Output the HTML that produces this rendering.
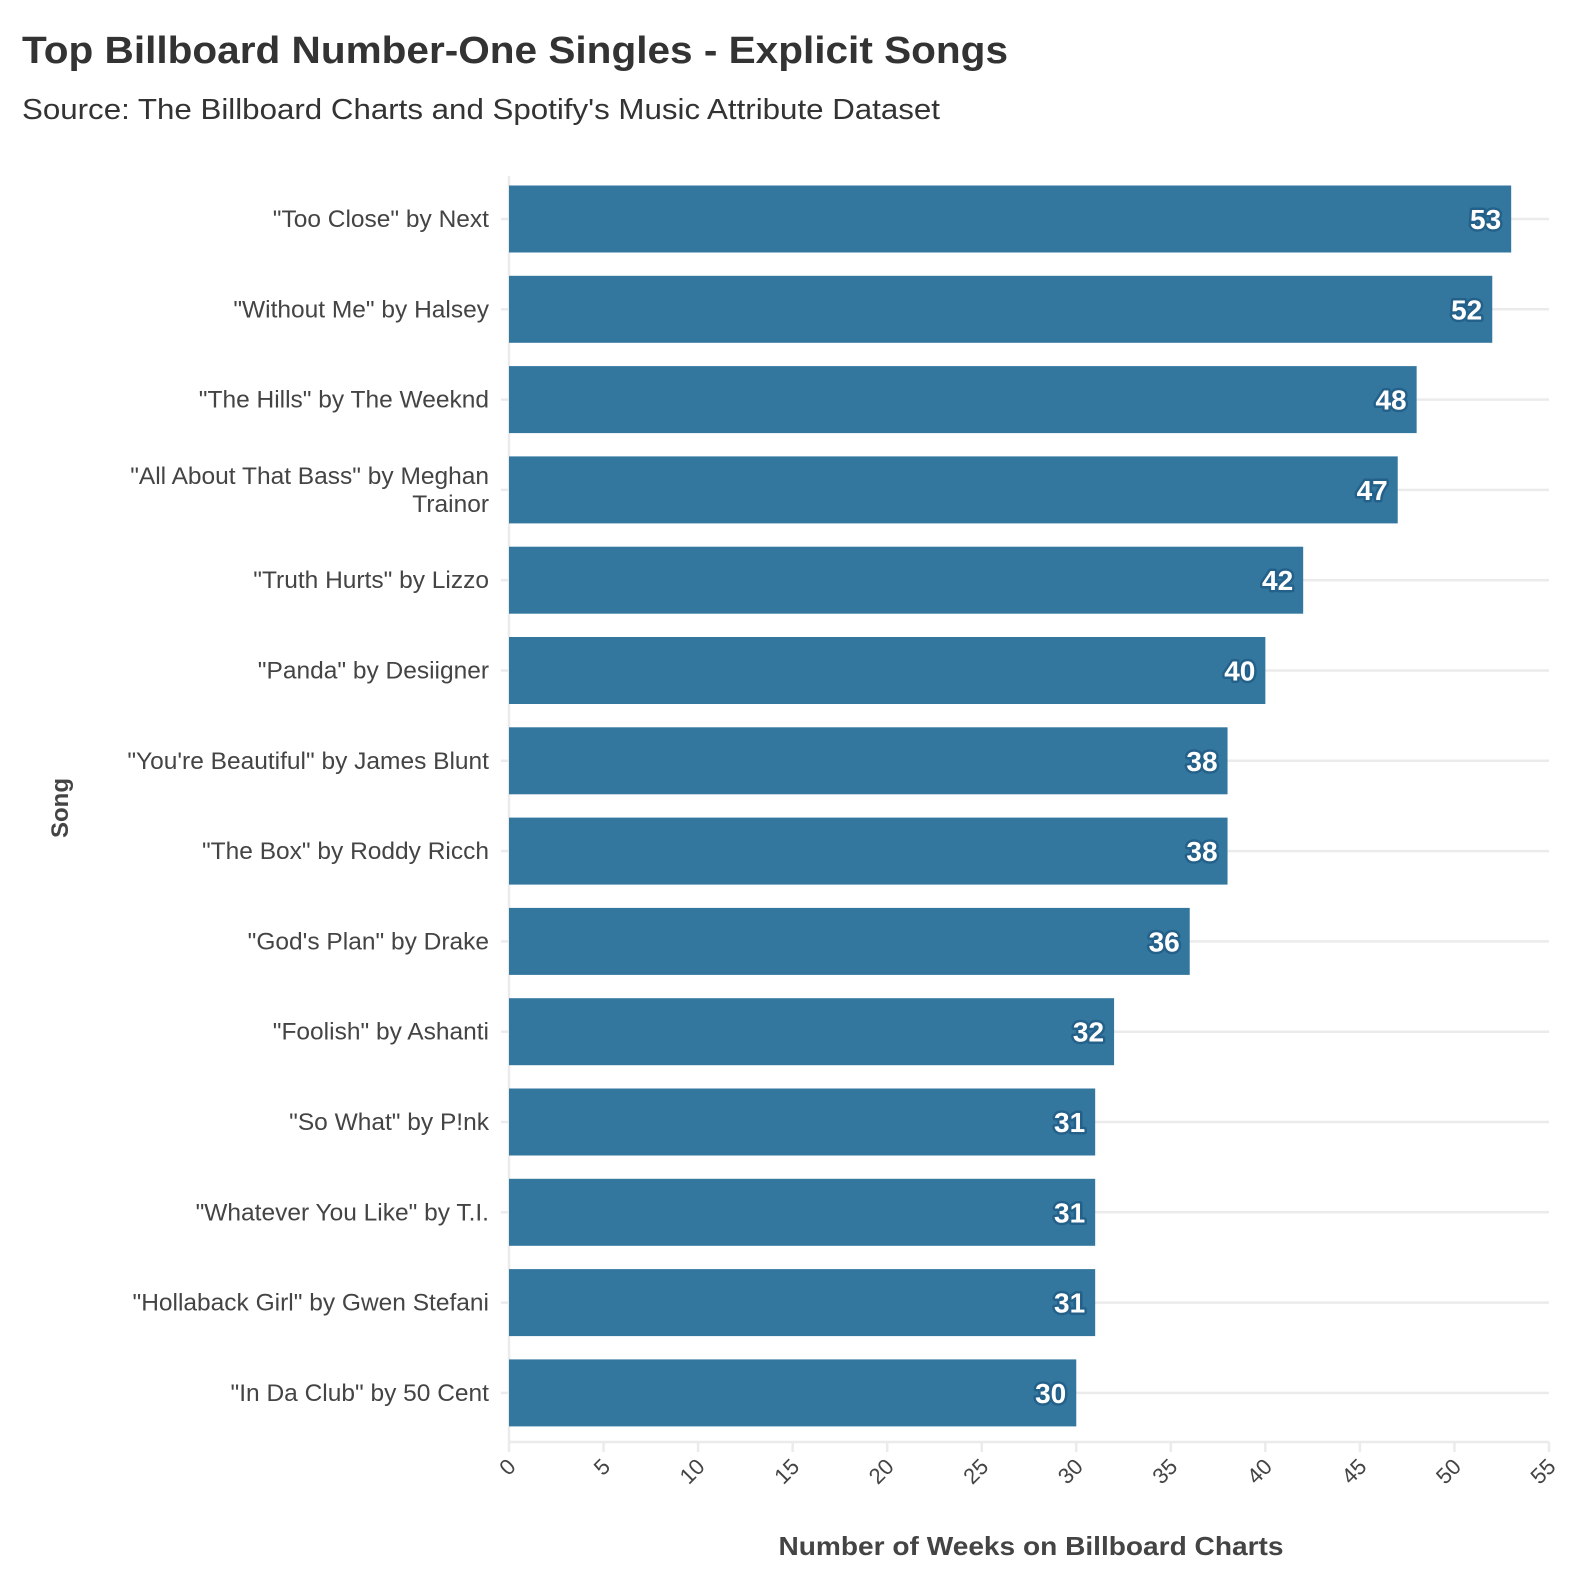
<!DOCTYPE html>
<html><head><meta charset="utf-8"><style>
html,body{margin:0;padding:0;background:#fff;}
svg{display:block;font-family:"Liberation Sans",sans-serif;}
</style></head><body>
<svg id="chart" width="1592" height="1596" viewBox="0 0 1592 1596">
<text x="22" y="63" font-size="38" font-weight="bold" fill="#333" textLength="986" lengthAdjust="spacingAndGlyphs">Top Billboard Number-One Singles - Explicit Songs</text>
<text x="22" y="119" font-size="29" fill="#333" textLength="918" lengthAdjust="spacingAndGlyphs">Source: The Billboard Charts and Spotify's Music Attribute Dataset</text>
<text transform="translate(68,808) rotate(-90)" text-anchor="middle" font-size="24" font-weight="bold" fill="#444">Song</text>
<text x="1031" y="1555" text-anchor="middle" font-size="26" font-weight="bold" fill="#444" textLength="505" lengthAdjust="spacingAndGlyphs">Number of Weeks on Billboard Charts</text>
<g id="grid"></g><g id="bars"></g><g id="ylabels"></g><g id="xticks"></g>
</svg>
<script>
const songs=['"Too Close" by Next','"Without Me" by Halsey','"The Hills" by The Weeknd','"All About That Bass" by Meghan|Trainor','"Truth Hurts" by Lizzo','"Panda" by Desiigner','"You\'re Beautiful" by James Blunt','"The Box" by Roddy Ricch','"God\'s Plan" by Drake','"Foolish" by Ashanti','"So What" by P!nk','"Whatever You Like" by T.I.','"Hollaback Girl" by Gwen Stefani','"In Da Club" by 50 Cent'];
const weeks=[53,52,48,47,42,40,38,38,36,32,31,31,31,30];
const xTicks=[0,5,10,15,20,25,30,35,40,45,50,55];
const NS="http://www.w3.org/2000/svg";
const x0=509,x1=1549,xMax=55;
const xs=v=>x0+(x1-x0)*v/xMax;
const yTop=219,step=90.3,bh=67;
const ys=i=>yTop+i*step;
function mk(t,a,p){const e=document.createElementNS(NS,t);for(const k in a)e.setAttribute(k,a[k]);p.appendChild(e);return e;}
const grid=document.getElementById('grid'),bars=document.getElementById('bars'),yl=document.getElementById('ylabels'),xt=document.getElementById('xticks');
songs.forEach((s,i)=>{
  const g=mk('line',{x1:x0,x2:x1,y1:ys(i),y2:ys(i),stroke:'#ebebeb','stroke-width':2.5},grid);
  
  
  const tk=mk('line',{x1:x0-8,x2:x0,y1:ys(i),y2:ys(i),stroke:'#ebebeb','stroke-width':2.5},grid);
  
  
  const r=mk('rect',{x:x0,y:ys(i)-bh/2,width:xs(weeks[i])-x0,height:bh,fill:'#33779f'},bars);
  
  
  const v=mk('text',{x:xs(weeks[i])-10,y:ys(i)+10,'text-anchor':'end','font-size':28,'font-weight':'bold',fill:'#fff',stroke:'#24618a','stroke-width':5,'paint-order':'stroke','stroke-linejoin':'round'},bars);
  v.textContent=weeks[i];
  
  
  const parts=s.split('|');
  const t=mk('text',{'text-anchor':'end','font-size':24.5,fill:'#444'},yl);
  
  
  parts.forEach((p,j)=>{const ts=mk('tspan',{x:x0-20,y:ys(i)+8+(parts.length>1?(j-0.5)*28:0)},t);ts.textContent=p;});
});
mk('line',{x1:x0,x2:x0,y1:176,y2:1442,stroke:'#ebebeb','stroke-width':2.5},grid);
mk('line',{x1:x0,x2:x1,y1:1442,y2:1442,stroke:'#ebebeb','stroke-width':2.5},grid);
xTicks.forEach(v=>{
  const l=mk('line',{x1:xs(v),x2:xs(v),y1:1442,y2:1452,stroke:'#ebebeb','stroke-width':2.5},xt);
  
  
  const t=mk('text',{transform:`translate(${xs(v)+8},${1468}) rotate(-45)`,'text-anchor':'end','font-size':22,fill:'#444'},xt);
  t.textContent=v;
  
  
});
</script>
</body></html>
